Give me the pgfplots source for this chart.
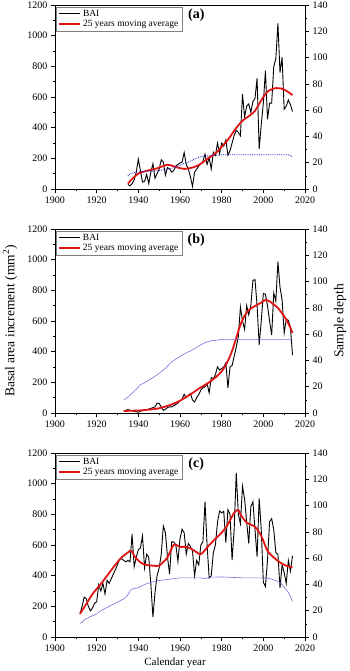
\documentclass[border=0pt]{standalone}
\usepackage{fontspec}
\setmainfont{Liberation Serif}
\usepackage{pgfplots}
\pgfplotsset{compat=1.18}
\definecolor{myred}{RGB}{225,20,20}
\definecolor{dblue}{RGB}{30,30,200}
\definecolor{lblue}{RGB}{115,115,225}
\pgfplotsset{
 base/.style={scale only axis, width=250pt, height=184pt, xmin=1900, xmax=2020,
   tick align=outside, major tick length=4pt, minor tick length=2pt,
   tick style={black, line width=0.5pt},
   tick label style={font=\fontsize{10}{12}\selectfont},
   /pgf/number format/assume math mode=true, /pgf/number format/1000 sep={}},
 lefta/.style={base, ymin=0, ymax=1200, ytick={0,200,...,1200},
   xtick={1900,1920,...,2020}, minor xtick={1910,1930,...,2010},
   minor ytick={100,300,...,1100}, tick pos=left,
   legend style={at={(rel axis cs:0.004,0.99)}, anchor=north west, draw=gray,
     font=\fontsize{9.5}{10}\selectfont, inner xsep=2pt, inner ysep=1pt, row sep=-1.5pt},
   legend cell align=left,
   legend image code/.code={\draw[##1] (0pt,0pt) -- (21pt,0pt);}},
 righta/.style={base, ymin=0, ymax=140, ytick={0,20,...,140},
   minor ytick={10,30,...,130}, axis y line*=right, axis x line=none},
 bai/.style={black, line width=0.9pt},
 mav/.style={myred, line width=1.8pt, smooth},
}
\begin{document}
\begin{tikzpicture}
\useasboundingbox (-55pt,-482pt) rectangle (295pt,189pt);
% ---------------- panel (a)
\begin{axis}[lefta, at={(0pt,0pt)}]
\addplot[bai] table {
x y
1935 30
1936 20
1937 35
1938 60
1939 110
1940 195
1941 120
1942 45
1943 50
1944 95
1945 35
1946 110
1947 165
1948 70
1949 100
1950 130
1951 190
1952 175
1953 90
1954 140
1955 130
1956 110
1957 120
1958 150
1959 160
1960 170
1961 175
1962 238
1963 160
1964 130
1965 80
1966 17
1967 110
1968 130
1969 150
1970 165
1971 180
1972 228
1973 160
1974 205
1975 130
1976 240
1977 220
1978 300
1979 230
1980 300
1981 280
1982 320
1983 220
1984 250
1985 300
1986 350
1987 382
1988 370
1989 347
1990 618
1991 470
1992 540
1993 555
1994 500
1995 570
1996 590
1997 722
1998 260
1999 420
2000 560
2001 772
2002 455
2003 560
2004 560
2005 798
2006 850
2007 1080
2008 759
2009 859
2010 520
2011 540
2012 581
2013 550
2014 505
};
\addlegendentry{BAI}
\addplot[mav] table {
x y
1935 35
1937 65
1940 100
1943 115
1946 125
1949 135
1952 150
1954 158
1956 153
1958 143
1960 136
1962 131
1964 134
1966 140
1968 150
1970 165
1972 185
1974 205
1976 222
1978 245
1980 275
1982 305
1984 340
1986 380
1988 415
1990 445
1992 465
1994 485
1996 510
1998 555
2000 600
2002 635
2004 650
2006 658
2008 657
2010 648
2012 632
2014 612
};
\addlegendentry{25 years moving average}
\node[font=\bfseries\fontsize{14}{14}\selectfont] at (rel axis cs:0.565,0.945) {(a)};
\end{axis}
\begin{axis}[righta, at={(0pt,0pt)}]
\addplot[dblue, densely dotted, line width=0.8pt] table {
x y
1935 10
1936 11.5
1938 12.5
1940 13
1945 13.5
1950 14
1953 15
1955 15.5
1958 16.5
1960 18
1962 19.5
1964 20.5
1966 22
1968 23.5
1970 24.5
1972 25
1975 25.5
1980 26
2000 26
2012 26
2013 25.5
2014 24.5
};
\end{axis}
% ---------------- panel (b)
\begin{axis}[lefta, at={(0pt,-224pt)},
  ylabel={Basal area increment (mm\textsuperscript{2})},
  ylabel style={at={(axis description cs:-0.18,0.5)}, anchor=center, font=\fontsize{13.5}{14}\selectfont}]
\addplot[bai] table {
x y
1933 15
1934 18
1935 22
1936 18
1937 15
1938 12
1939 8
1940 5
1941 12
1942 15
1943 20
1944 22
1945 25
1946 30
1947 35
1948 40
1949 65
1950 62
1951 40
1952 17
1953 25
1954 35
1955 40
1956 40
1957 48
1958 55
1959 65
1960 80
1961 90
1962 122
1963 100
1964 115
1965 127
1966 85
1967 72
1968 100
1969 120
1970 150
1971 165
1972 170
1973 192
1974 131
1975 231
1976 225
1977 250
1978 301
1979 280
1980 290
1981 300
1982 327
1983 164
1984 300
1985 310
1986 370
1987 430
1988 500
1989 690
1990 600
1991 545
1992 700
1993 640
1994 700
1995 865
1996 870
1997 700
1998 445
1999 600
2000 780
2001 775
2002 700
2003 600
2004 509
2005 782
2006 730
2007 987
2008 820
2009 740
2010 522
2011 612
2012 605
2013 560
2014 378
};
\addlegendentry{BAI}
\addplot[mav] table {
x y
1933 13
1937 15
1941 17
1945 22
1949 28
1953 42
1957 61
1960 80
1963 105
1966 130
1969 159
1972 183
1975 210
1978 243
1981 290
1983 340
1985 405
1987 490
1989 575
1991 635
1993 670
1995 690
1997 705
1999 720
2001 737
2003 728
2005 708
2007 685
2009 650
2011 610
2013 555
2014 522
};
\addlegendentry{25 years moving average}
\node[font=\bfseries\fontsize{14}{14}\selectfont] at (rel axis cs:0.565,0.94) {(b)};
\end{axis}
\begin{axis}[righta, at={(0pt,-224pt)}, ylabel={Sample depth},
  ylabel style={at={(axis description cs:1.14,0.5)}, anchor=center, font=\fontsize{13.5}{14}\selectfont}]
\addplot[lblue, line width=0.6pt] table {
x y
1933 10
1935 12
1937 15
1939 18
1941 21.5
1943 23
1945 25
1947 27
1949 29
1951 31.5
1953 34
1956 39
1958 41
1960 43
1962 45
1964 46.5
1966 48
1968 50
1970 52
1972 53.5
1975 55
1978 55.5
1980 56
2000 56
2014 56
};
\end{axis}
% ---------------- panel (c)
\begin{axis}[lefta, at={(0pt,-448pt)}, xlabel={Calendar year},
  xlabel style={at={(axis description cs:0.48,-0.14)}, anchor=center, font=\fontsize{11}{12}\selectfont}]
\addplot[bai] table {
x y
1912 150
1913 200
1914 260
1915 250
1916 200
1917 170
1918 190
1919 220
1920 230
1921 342
1922 300
1923 350
1924 281
1925 370
1926 350
1927 380
1928 410
1929 440
1930 470
1931 508
1932 510
1933 500
1934 490
1935 500
1936 490
1937 670
1938 458
1939 520
1940 570
1941 580
1942 659
1943 450
1944 540
1945 520
1946 346
1947 130
1948 290
1949 400
1950 450
1951 540
1952 724
1953 680
1954 520
1955 411
1956 620
1957 620
1958 600
1959 493
1960 640
1961 703
1962 680
1963 540
1964 610
1965 590
1966 560
1967 400
1968 500
1969 470
1970 600
1971 620
1972 882
1973 600
1974 385
1975 400
1976 550
1977 600
1978 750
1979 822
1980 810
1981 820
1982 616
1983 830
1984 800
1985 502
1986 700
1987 1070
1988 800
1989 739
1990 984
1991 900
1992 750
1993 610
1994 850
1995 882
1996 700
1997 525
1998 904
1999 700
2000 357
2001 329
2002 500
2003 752
2004 772
2005 700
2006 550
2007 540
2008 320
2009 470
2010 420
2011 350
2012 500
2013 430
2014 530
};
\addlegendentry{BAI}
\addplot[mav] table {
x y
1912 151
1915 215
1918 280
1922 346
1925 400
1928 454
1932 520
1935 551
1936 562
1937 558
1938 530
1941 486
1944 470
1947 465
1950 465
1952 490
1954 519
1957 601
1960 588
1963 588
1965 578
1967 562
1970 540
1973 584
1976 627
1980 681
1983 735
1986 811
1988 828
1989 800
1990 780
1992 746
1996 718
1999 659
2002 562
2005 519
2008 486
2011 465
2014 454
};
\addlegendentry{25 years moving average}
\node[font=\bfseries\fontsize{14}{14}\selectfont] at (rel axis cs:0.565,0.94) {(c)};
\end{axis}
\begin{axis}[righta, at={(0pt,-448pt)}]
\addplot[lblue, line width=0.6pt] table {
x y
1912 10.5
1913 11
1914 13
1915 14
1917 15.5
1920 17.5
1922 20
1925 22.5
1928 25
1930 26.5
1933 29
1935 32
1936 35
1937 36.5
1940 37.5
1943 40
1946 41.5
1950 43
1955 44
1960 45
1970 45
1972 44.5
1975 45.5
1980 45.7
1990 45
2000 45
2003 44.5
2005 43.5
2008 41.5
2010 38
2012 34
2013 31
2014 27
};
\end{axis}
\end{tikzpicture}
\end{document}
